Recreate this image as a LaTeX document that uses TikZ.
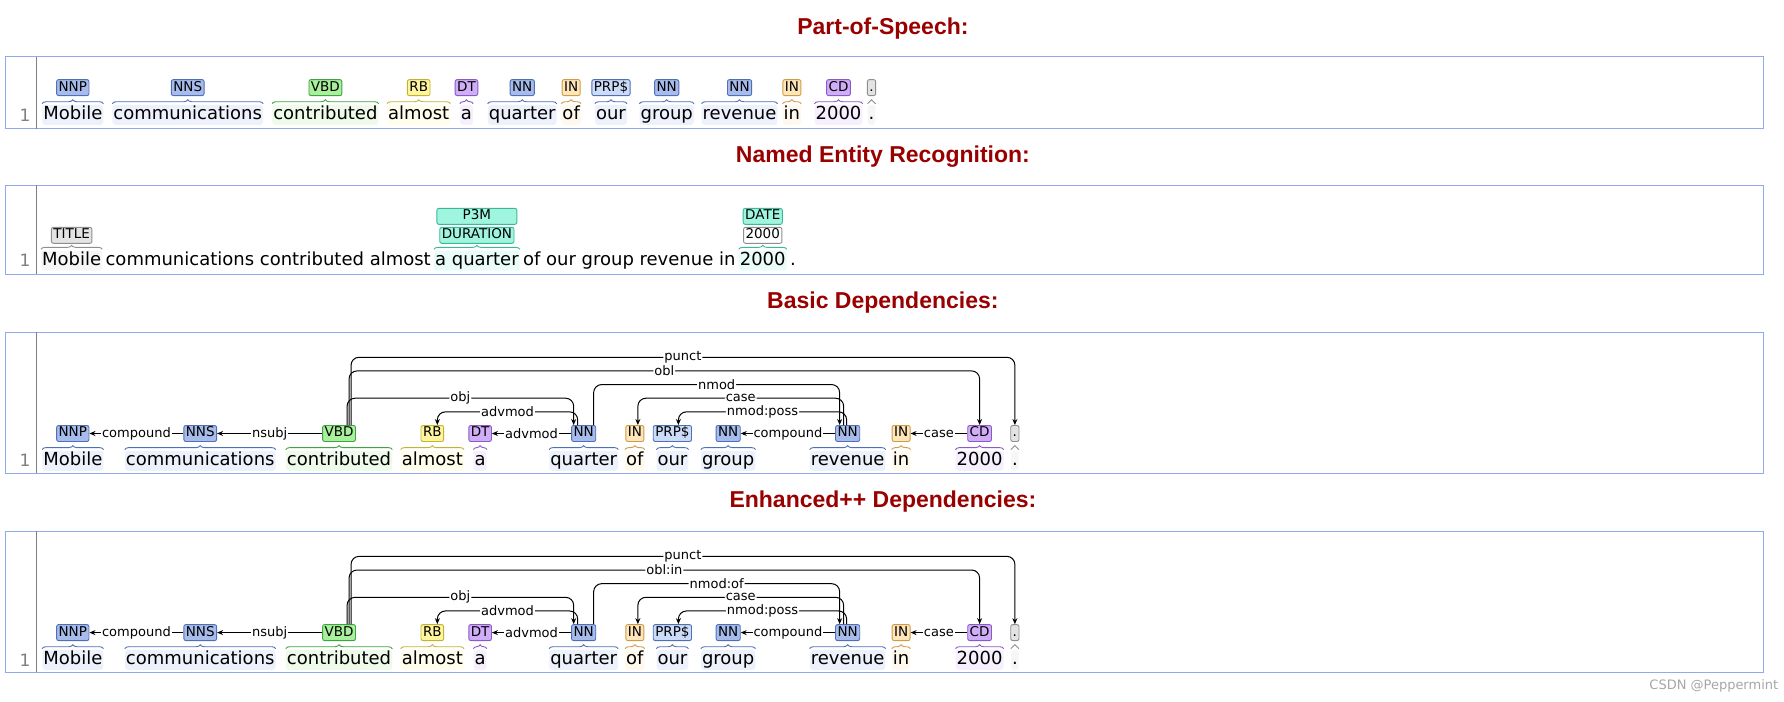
\documentclass[tikz,border=0pt]{standalone}
\usepackage{fontspec}
\setmainfont{DejaVu Sans}
\newfontfamily\titlefont{Liberation Sans}
\usetikzlibrary{decorations.pathreplacing,arrows.meta}
\definecolor{Bf}{HTML}{A7BCEB}\definecolor{Bd}{HTML}{4F6FB7}\definecolor{Bbg}{HTML}{EDF1FB}
\definecolor{Pf}{HTML}{CCDBF7}\definecolor{Pd}{HTML}{4F6FB7}\definecolor{Pbg}{HTML}{EDF1FB}
\definecolor{Gf}{HTML}{A9F09C}\definecolor{Gd}{HTML}{3FA33F}\definecolor{Gbg}{HTML}{EEFBEA}
\definecolor{Yf}{HTML}{FFF59F}\definecolor{Yd}{HTML}{C2B432}\definecolor{Ybg}{HTML}{FFFDEB}
\definecolor{Uf}{HTML}{D0AEF7}\definecolor{Ud}{HTML}{8B59C9}\definecolor{Ubg}{HTML}{F6EFFE}
\definecolor{Of}{HTML}{FFE6BA}\definecolor{Od}{HTML}{D19A45}\definecolor{Obg}{HTML}{FFF8EC}
\definecolor{Xf}{HTML}{E3E3E3}\definecolor{Xd}{HTML}{8E8E8E}\definecolor{Xbg}{HTML}{F6F6F6}
\definecolor{Tf}{HTML}{A0F5DF}\definecolor{Td}{HTML}{3CB896}\definecolor{Tbg}{HTML}{E9FCF7}
\definecolor{boxc}{HTML}{90AAF0}\definecolor{ttl}{HTML}{990000}
\tikzset{
 word/.style={inner xsep=1pt,inner ysep=1pt,rounded corners=3pt,font=\fontsize{18}{20}\selectfont,text height=14pt,text depth=4pt},
 tag/.style={inner xsep=2pt,inner ysep=1.5pt,rounded corners=2pt,line width=0.9pt,font=\fontsize{13.5}{14}\selectfont,text height=10pt,text depth=3pt},
 ttlnode/.style={font=\titlefont\bfseries\fontsize{23}{26}\selectfont,text=ttl},
 panel/.style={draw=boxc,line width=1.2pt},
 lnum/.style={text=gray,font=\fontsize{17}{18}\selectfont},
 dep/.style={line width=1pt,-{Stealth[length=6pt,width=5pt]}},
 lab/.style={fill=white,inner sep=1pt,font=\fontsize{13}{14}\selectfont},
 br/.style={line width=0.9pt,decorate,decoration={brace,amplitude=4pt}},
}
\newcommand\tk[7]{%
 \node[word,fill=#5bg] (#1w) at (#2,#3) {#7};
 \node[tag,fill=#5f,draw=#5d] (#1t) at (#2,#4) {#6};
 \draw[#5d,br] ([yshift=1pt]#1w.north west) -- ([yshift=1pt]#1w.north east);}
\newcommand\hdep[6]{%
 \draw[dep,rounded corners=8pt] ([xshift=#2]#1.north) -- ([xshift=#2]#1.north |- 0,#5) -- ([xshift=#4]#3.north |- 0,#5) node[midway,lab]{#6} -- ([xshift=#4]#3.north);}
\newcommand\ldep[3]{\draw[dep] (#1.west) -- (#2.east) node[midway,lab]{#3};}
\newcommand\depbox[4]{% #1 prefix, #2 offset, #3 obl label, #4 nmod label
\begin{scope}[yshift=-#2*1.138pt]
 \draw[panel] (5,292) rectangle (1550,416);
 \draw[gray,line width=1pt] (32,292) -- (32,416);
 \node[lnum] (#1ln) at (22,405) {1};
 \tk{#1a}{64}{405}{381}{B}{NNP}{Mobile}
 \tk{#1b}{176}{405}{381}{B}{NNS}{communications}
 \tk{#1c}{298}{405}{381}{G}{VBD}{contributed}
 \tk{#1d}{380}{405}{381}{Y}{RB}{almost}
 \tk{#1e}{422}{405}{381}{U}{DT}{a}
 \tk{#1f}{513}{405}{381}{B}{NN}{quarter}
 \tk{#1g}{558}{405}{381}{O}{IN}{of}
 \tk{#1h}{591}{405}{381}{P}{PRP\$}{our}
 \tk{#1i}{640}{405}{381}{B}{NN}{group}
 \tk{#1j}{745}{405}{381}{B}{NN}{revenue}
 \tk{#1k}{792}{405}{381}{O}{IN}{in}
 \tk{#1l}{861}{405}{381}{U}{CD}{2000}
 \tk{#1m}{892}{405}{381}{X}{.}{.}
 \ldep{#1bt}{#1at}{compound}
 \ldep{#1ct}{#1bt}{nsubj}
 \ldep{#1ft}{#1et}{advmod}
 \ldep{#1jt}{#1it}{compound}
 \ldep{#1lt}{#1kt}{case}
 \hdep{#1ct}{12pt}{#1mt}{0pt}{314}{punct}
 \hdep{#1ct}{10pt}{#1lt}{0pt}{326}{#3}
 \hdep{#1ct}{8pt}{#1ft}{-10pt}{350}{obj}
 \hdep{#1ft}{-6pt}{#1dt}{5pt}{362}{advmod}
 \hdep{#1ft}{10pt}{#1jt}{-8pt}{338}{#4}
 \hdep{#1jt}{-4pt}{#1gt}{3pt}{350}{case}
 \hdep{#1jt}{-1pt}{#1ht}{6pt}{362}{nmod:poss}
\end{scope}}
\begin{document}
\begin{tikzpicture}[x=1.138pt,y=-1.138pt]
\useasboundingbox (0,0) rectangle (1568,617);
% titles
\node[ttlnode] (t1) at (776,25) {Part-of-Speech:};
\node[ttlnode] (t2) at (776,138) {Named Entity Recognition:};
\node[ttlnode] (t3) at (776,266) {Basic Dependencies:};
\node[ttlnode] (t4) at (776,441) {Enhanced++ Dependencies:};
% POS
\draw[panel] (5,50) rectangle (1550,113);
\draw[gray,line width=1pt] (32,50) -- (32,113);
\node[lnum] (p1n) at (22,101) {1};
\tk{pa}{64}{101}{77}{B}{NNP}{Mobile}
\tk{pb}{165}{101}{77}{B}{NNS}{communications}
\tk{pc}{286}{101}{77}{G}{VBD}{contributed}
\tk{pd}{368}{101}{77}{Y}{RB}{almost}
\tk{pe}{410}{101}{77}{U}{DT}{a}
\tk{pf}{459}{101}{77}{B}{NN}{quarter}
\tk{pg}{502}{101}{77}{O}{IN}{of}
\tk{ph}{537}{101}{77}{P}{PRP\$}{our}
\tk{pi}{586}{101}{77}{B}{NN}{group}
\tk{pj}{650}{101}{77}{B}{NN}{revenue}
\tk{pk}{696}{101}{77}{O}{IN}{in}
\tk{pl}{737}{101}{77}{U}{CD}{2000}
\tk{pm}{766}{101}{77}{X}{.}{.}
% NER
\draw[panel] (5,163) rectangle (1550,241);
\draw[gray,line width=1pt] (32,163) -- (32,241);
\node[lnum] (n1n) at (22,229) {1};
\node[word,fill=Xbg,anchor=west] (na) at (36,229) {Mobile};
\node[word,anchor=west] (nb) at ([xshift=2pt]na.east) {communications contributed almost};
\node[word,fill=Tbg,anchor=west] (nc) at ([xshift=2pt]nb.east) {a quarter};
\node[word,anchor=west] (nd) at ([xshift=2pt]nc.east) {of our group revenue in};
\node[word,fill=Tbg,anchor=west] (ne) at ([xshift=2pt]nd.east) {2000};
\node[word,anchor=west] (nf) at ([xshift=2pt]ne.east) {.};
\node[tag,fill=Xf,draw=Xd] (nta) at ([yshift=15pt]na.north) {TITLE};
\node[tag,fill=Tf,draw=Td] (ntc) at ([yshift=15pt]nc.north) {DURATION};
\node[tag,fill=Tf,draw=Td,minimum width=80pt] (ntc2) at ([yshift=19pt]ntc.center) {P3M};
\node[tag,fill=white,draw=Xd] (nte) at ([yshift=15pt]ne.north) {2000};
\node[tag,fill=Tf,draw=Td] (nte2) at ([yshift=19pt]nte.center) {DATE};
\draw[Xd,br] ([yshift=1pt]na.north west) -- ([yshift=1pt]na.north east);
\draw[Td,br] ([yshift=1pt]nc.north west) -- ([yshift=1pt]nc.north east);
\draw[Td,br] ([yshift=1pt]ne.north west) -- ([yshift=1pt]ne.north east);
% dependencies
\depbox{b}{0}{obl}{nmod}
\depbox{e}{175}{obl:in}{nmod:of}
\node[text=gray!70,font=\fontsize{13}{14}\selectfont,anchor=east] (wm) at (1566,603) {CSDN @Peppermint};
\end{tikzpicture}
\end{document}
